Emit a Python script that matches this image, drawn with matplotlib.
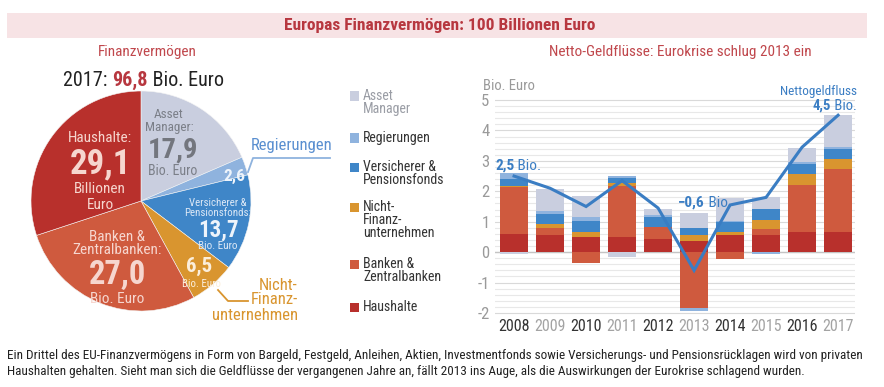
import matplotlib
matplotlib.use("Agg")
import matplotlib.pyplot as plt
from matplotlib import font_manager
from matplotlib.patches import Rectangle
from matplotlib.lines import Line2D
import numpy as np

# ---------------- data ----------------
pie_labels = ["Asset Manager", "Regierungen", "Versicherer & Pensionsfonds",
              "Nicht-Finanzunternehmen", "Banken & Zentralbanken", "Haushalte"]
pie_values = [17.9, 2.6, 13.7, 6.5, 27.0, 29.1]
pie_total = 96.8

years = [2008, 2009, 2010, 2011, 2012, 2013, 2014, 2015, 2016, 2017]
haushalte   = [0.60, 0.55, 0.49, 0.49, 0.42, 0.38, 0.57, 0.57, 0.66, 0.66]
banken      = [1.53, 0.24, -0.36, 1.70, 0.39, -1.84, -0.23, 0.19, 1.54, 2.07]
nicht_fin   = [0.06, 0.14, 0.16, 0.07, 0.03, 0.18, 0.09, 0.30, 0.36, 0.34]
versicherer = [0.21, 0.33, 0.37, 0.17, 0.32, 0.24, 0.33, 0.35, 0.34, 0.32]
regierungen = [0.20, 0.08, 0.13, 0.07, 0.06, -0.10, 0.04, -0.05, 0.05, 0.07]
asset_mgr   = [-0.07, 0.75, 0.68, -0.15, 0.19, 0.50, 0.75, 0.39, 0.47, 1.06]
netto       = [2.5, 2.1, 1.5, 2.35, 1.45, -0.6, 1.55, 1.8, 3.45, 4.5]

yticks = [-2, -1, 0, 1, 2, 3, 4, 5]
ytick_labels = ["-2", "-1", "0", "1", "2", "3", "4", "5"]

# ---------------- style ----------------
C_ASSET = "#c9cedf"
C_REG = "#8fb3de"
C_VERS = "#3f86c8"
C_NICHT = "#d9952f"
C_BANK = "#cf5a3e"
C_HAUS = "#b8302c"
C_LINE = "#3a7dc3"
C_TITLE = "#b7373f"

avail = {f.name for f in font_manager.fontManager.ttflist}
COND = None
for cand in ["Liberation Sans Narrow", "Roboto Condensed", "Open Sans Condensed", "Liberation Sans"]:
    if cand in avail:
        COND = cand
        break
if COND is None:
    COND = "DejaVu Sans"
plt.rcParams["font.family"] = [COND, "DejaVu Sans"]

W, H = 884, 387
fig = plt.figure(figsize=(W / 100, H / 100), dpi=100)
fig.patch.set_facecolor("white")


def P(x, y):
    return (x / W, 1 - y / H)


def T(x, y, s, **kw):
    kw.setdefault("va", "center")
    kw.setdefault("ha", "center")
    return fig.text(*P(x, y), s, **kw)


renderer = fig.canvas.get_renderer()


def row(x, y, pieces, ha="left"):
    objs = []
    cur = 0.0
    for s, kw in pieces:
        t = fig.text(*P(x + cur, y), s, va="center", ha="left", **kw)
        bb = t.get_window_extent(renderer)
        objs.append(t)
        cur += bb.width
    total = cur
    shift = 0
    if ha == "center":
        shift = -total / 2
    elif ha == "right":
        shift = -total
    off = 0.0
    for t in objs:
        bb = t.get_window_extent(renderer)
        t.set_position(P(x + shift + off, y))
        off += bb.width
    return objs


# ---------------- banner ----------------
fig.patches.append(Rectangle(P(7, 38), (867 - 7) / W, 25 / H, transform=fig.transFigure,
                             facecolor="#f7e3e5", edgecolor="none", zorder=0))
T(440, 25.5, "Europas Finanzvermögen: 100 Billionen Euro", fontsize=12.5,
  fontweight="bold", color=C_TITLE)
T(147, 52, "Finanzvermögen", fontsize=11, color="#c0474c")
T(680, 52, "Netto-Geldflüsse: Eurokrise schlug 2013 ein", fontsize=11, color="#c0474c")

row(63, 80, [("2017: ", dict(fontsize=14.5, color="#222222")),
             ("96,8", dict(fontsize=14.5, color="#b7373f", fontweight="bold")),
             (" Bio. Euro", dict(fontsize=14.5, color="#222222"))])

# ---------------- pie ----------------
cx, cy, R = 141, 201, 110
axp = fig.add_axes([(cx - R) / W, 1 - (cy + R) / H, 2 * R / W, 2 * R / H])
pie_colors = [C_ASSET, C_REG, C_VERS, C_NICHT, C_BANK, C_HAUS]
axp.pie(pie_values, colors=pie_colors, startangle=90, counterclock=False,
        wedgeprops=dict(linewidth=0.4, edgecolor="#f4f4f4"))
axp.set_xlim(-1, 1)
axp.set_ylim(-1, 1)
axp.set_aspect("auto")
axp.axis("off")

fmt = lambda v: f"{v:.1f}".replace(".", ",")
gray = "#7b7f88"
T(169, 114.5, "Asset", fontsize=9.5, color=gray)
T(169, 127.5, "Manager:", fontsize=9.5, color=gray)
T(173, 150, fmt(pie_values[0]), fontsize=20.5, fontweight="bold", color="#73767e")
T(173, 171, "Bio. Euro", fontsize=10, color=gray)

pk = "#f6d6cf"
T(100, 138, "Haushalte:", fontsize=11, color=pk)
T(100, 164, fmt(pie_values[5]), fontsize=25, fontweight="bold", color=pk)
T(100, 189, "Billionen", fontsize=11, color=pk)
T(100, 205, "Euro", fontsize=11, color=pk)

T(117, 237, "Banken &", fontsize=11, color=pk)
T(117, 250, "Zentralbanken:", fontsize=11, color=pk)
T(117, 275, fmt(pie_values[4]), fontsize=23.5, fontweight="bold", color=pk)
T(117, 299, "Bio. Euro", fontsize=11, color=pk)

bl = "#dce8f6"
T(218, 203, "Versicherer &", fontsize=7.8, color=bl)
T(218, 213.5, "Pensionsfonds:", fontsize=7.8, color=bl)
T(218, 230, fmt(pie_values[2]), fontsize=16.5, fontweight="bold", color="#eef4fb")
T(218, 246, "Bio. Euro", fontsize=8, color=bl)

T(234, 176, fmt(pie_values[1]), fontsize=12.5, fontweight="bold", color="#eef4fb")

T(199, 266, fmt(pie_values[3]), fontsize=15, fontweight="bold", color="#fbeedb")
T(201, 284, "Bio. Euro", fontsize=7.8, color="#fbeedb")

T(292, 146, "Regierungen", fontsize=12, color="#5a8fd0")
fig.lines.append(Line2D([248 / W, 253 / W, 330 / W], [1 - 172 / H, 1 - 158 / H, 1 - 158 / H],
                        transform=fig.transFigure, color="#8fb3de", lw=1.3))
T(298, 285, "Nicht-", fontsize=12, color=C_NICHT, ha="right")
T(298, 300, "Finanz-", fontsize=12, color=C_NICHT, ha="right")
T(298, 315, "unternehmen", fontsize=12, color=C_NICHT, ha="right")
fig.lines.append(Line2D([218 / W, 228 / W, 248 / W], [1 - 290 / H, 1 - 301 / H, 1 - 301 / H],
                        transform=fig.transFigure, color=C_NICHT, lw=1.3))

# ---------------- legend ----------------
leg = [
    (C_ASSET, ["Asset", "Manager"], 96, "#9a9da5"),
    (C_REG, ["Regierungen"], 138, "#333333"),
    (C_VERS, ["Versicherer &", "Pensionsfonds"], 167, "#333333"),
    (C_NICHT, ["Nicht-", "Finanz-", "unternehmen"], 207, "#333333"),
    (C_BANK, ["Banken &", "Zentralbanken"], 264, "#333333"),
    (C_HAUS, ["Haushalte"], 307, "#333333"),
]
for col, lines, y0, tc in leg:
    fig.patches.append(Rectangle(P(350, y0 + 4.5), 9 / W, 9 / H, transform=fig.transFigure,
                                 facecolor=col, edgecolor="none"))
    for i, ln in enumerate(lines):
        T(363, y0 + i * 13, ln, fontsize=10, color=tc, ha="left")

# ---------------- bar chart ----------------
ax = fig.add_axes([495 / W, 1 - 314.5 / H, 360 / W, 216 / H])
x = np.arange(len(years))
ax.set_xlim(-0.53, len(years) - 0.53)
ax.set_ylim(-2.05, 5.05)
for v in np.arange(-2, 5.001, 0.2):
    major = abs(v - round(v)) < 1e-6
    ax.axhline(v, color="#d9d9d9" if major else "#e8e8e8", lw=0.8, zorder=0)
ax.axhline(0, color="#c4c4c4", lw=1.0, zorder=0.5)

series = [(haushalte, C_HAUS), (banken, C_BANK), (nicht_fin, C_NICHT),
          (versicherer, C_VERS), (regierungen, C_REG), (asset_mgr, C_ASSET)]
pos = np.zeros(len(years))
neg = np.zeros(len(years))
for vals, col in series:
    v = np.array(vals)
    bottoms = np.where(v >= 0, pos, neg)
    ax.bar(x, v, bottom=bottoms, width=0.78, color=col, edgecolor="none", zorder=2)
    pos = pos + np.where(v >= 0, v, 0)
    neg = neg + np.where(v < 0, v, 0)

ax.plot(x, netto, color=C_LINE, lw=2.2, zorder=3, solid_joinstyle="miter")

for s in ax.spines.values():
    s.set_visible(False)
ax.set_yticks(yticks)
ax.set_yticklabels(ytick_labels)
ax.set_xticks(x)
ax.set_xticklabels([str(y) for y in years])
ax.tick_params(axis="y", length=0, pad=4, labelsize=12, labelcolor="#9a9a9a")
ax.tick_params(axis="x", length=0, pad=3, labelsize=11.5)
for i, lbl in enumerate(ax.get_xticklabels()):
    lbl.set_color("#333333" if i % 2 == 0 else "#a3a3a3")

T(483, 86, "Bio. Euro", fontsize=10.5, color="#9a9a9a", ha="left")
row(495, 166, [("2,5", dict(fontsize=11, fontweight="bold", color=C_LINE)),
               (" Bio.", dict(fontsize=11, color=C_LINE))])
row(678, 203, [("\u22120,6", dict(fontsize=11, fontweight="bold", color=C_LINE)),
               (" Bio.", dict(fontsize=11, color=C_LINE))])
T(857, 92, "Nettogeldfluss", fontsize=9.5, color=C_LINE, ha="right")
row(857, 105.5, [("4,5", dict(fontsize=10.5, fontweight="bold", color=C_LINE)),
                 (" Bio.", dict(fontsize=10.5, color=C_LINE))], ha="right")

# ---------------- caption ----------------
cap1 = ("Ein Drittel des EU-Finanzvermögens in Form von Bargeld, Festgeld, Anleihen, Aktien, "
        "Investmentfonds sowie Versicherungs- und Pensionsrücklagen wird von privaten")
cap2 = ("Haushalten gehalten. Sieht man sich die Geldflüsse der vergangenen Jahre an, fällt 2013 "
        "ins Auge, als die Auswirkungen der Eurokrise schlagend wurden.")
T(7, 355, cap1, fontsize=9.5, color="#222222", ha="left")
T(7, 372, cap2, fontsize=9.5, color="#222222", ha="left")

fig.savefig("out.png", dpi=100, facecolor="white")
